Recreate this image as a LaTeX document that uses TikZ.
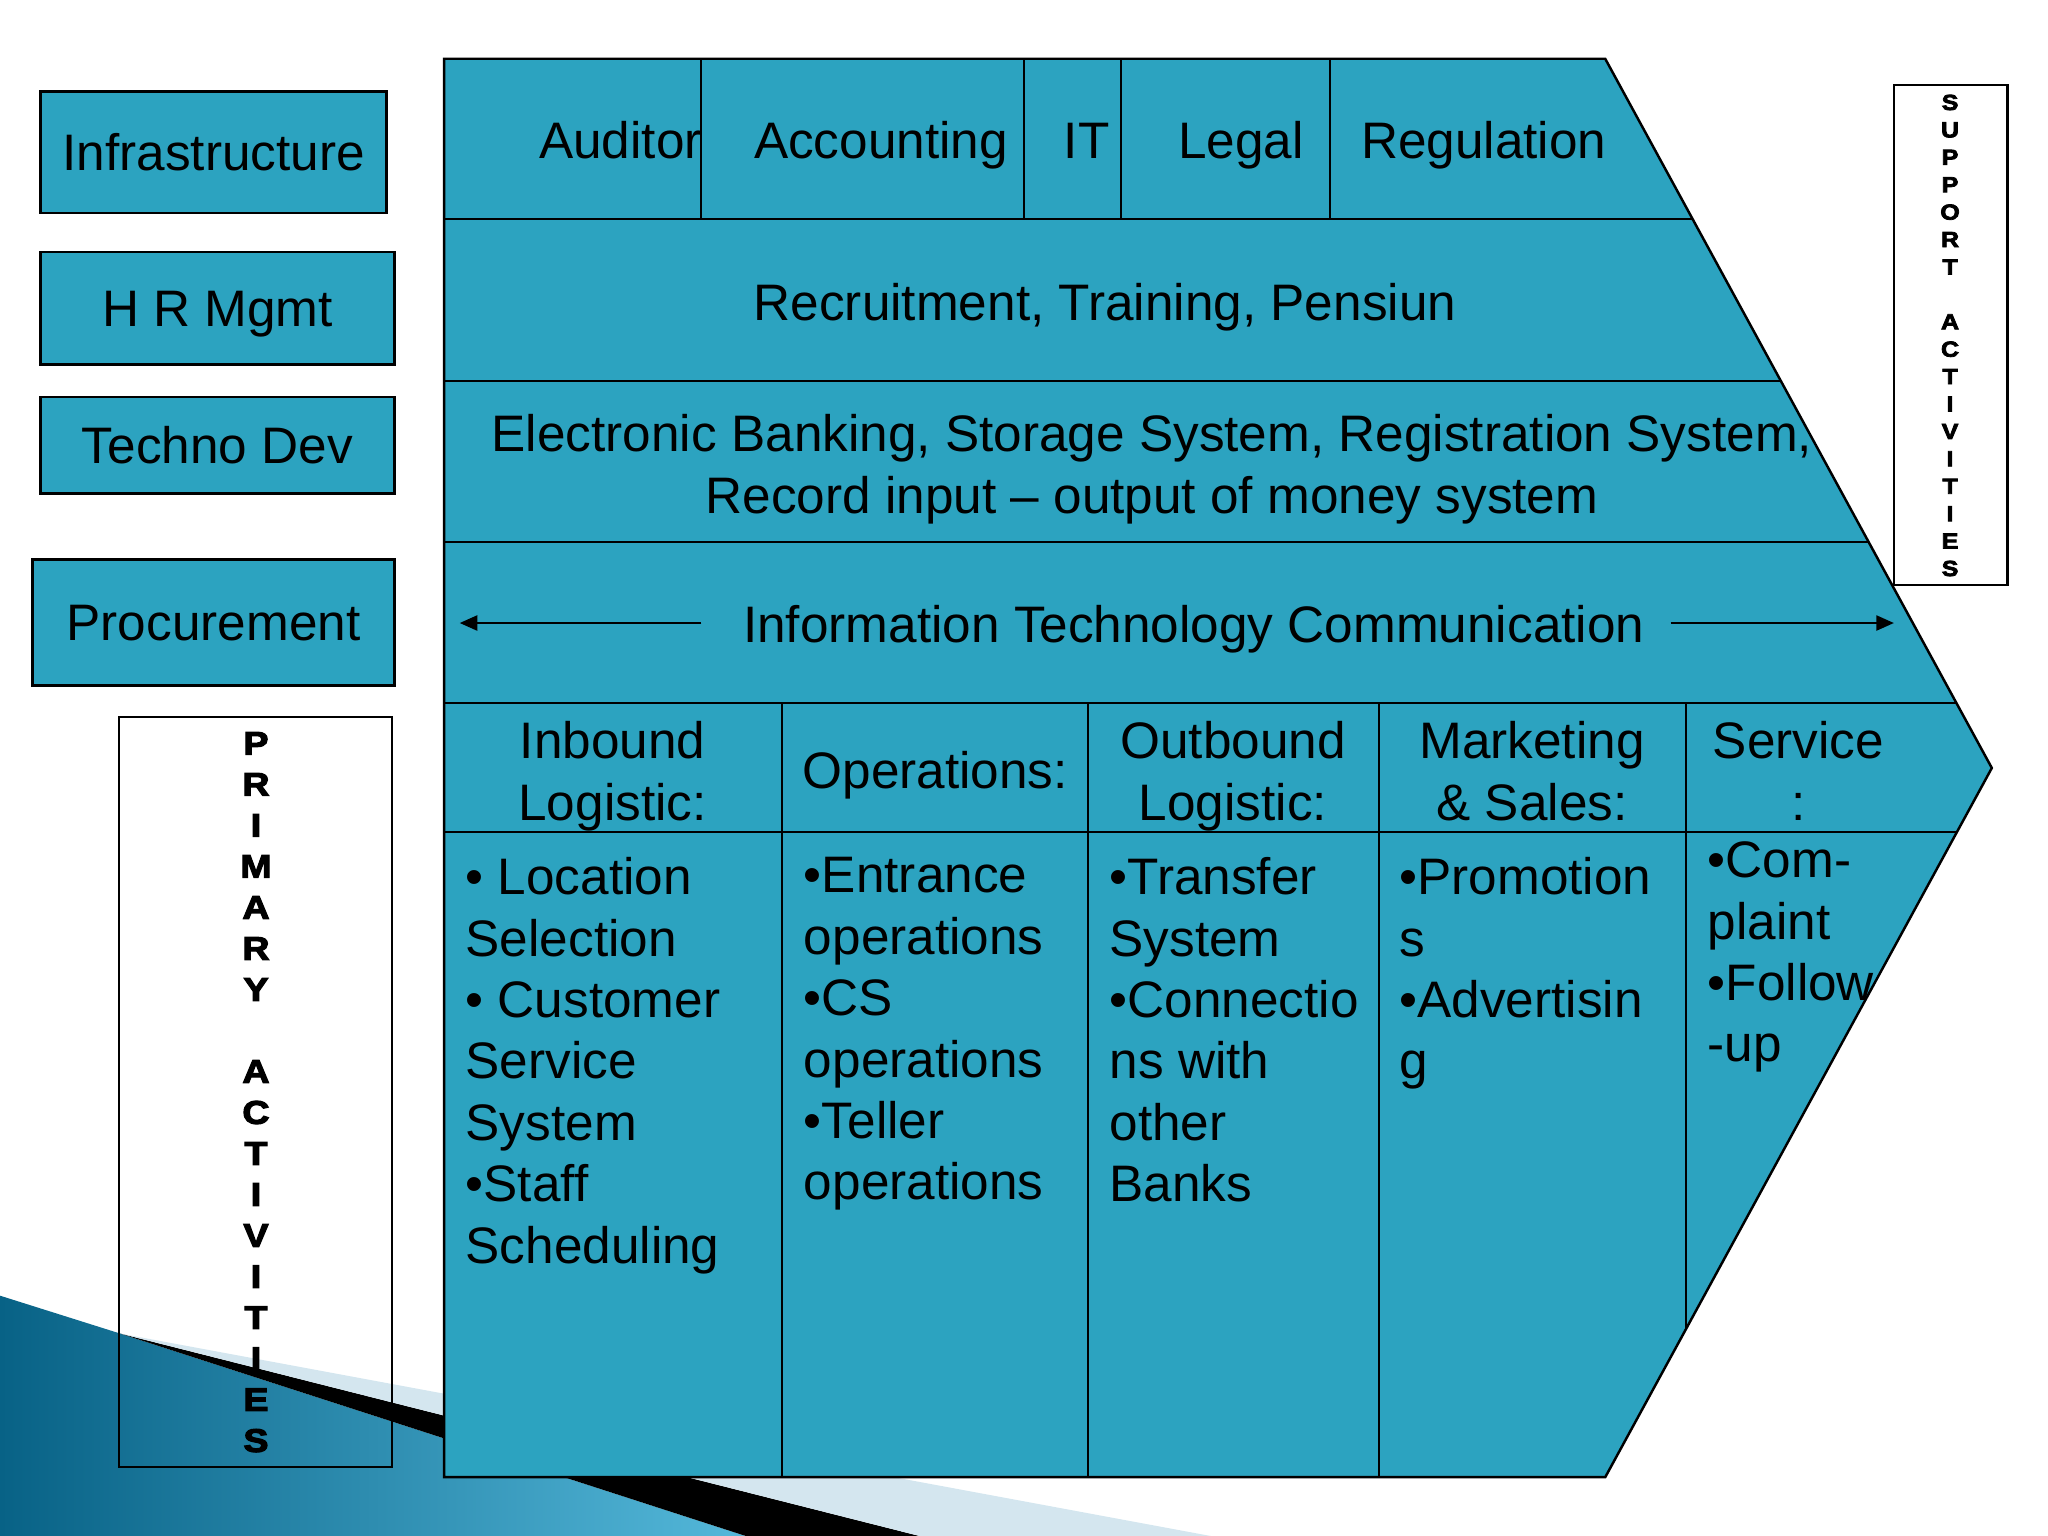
\documentclass[tikz,border=0pt]{standalone}
\usepackage{fontspec}
\setmainfont{Liberation Sans}
\newfontfamily\heavyfont{Liberation Sans Bold}[FakeBold=3.5,FakeStretch=1.15]
\usetikzlibrary{arrows.meta}
\definecolor{tealfill}{RGB}{44,163,192}
\definecolor{deepblue}{RGB}{8,98,134}
\definecolor{lightblue}{RGB}{84,184,218}
\definecolor{paleblue}{RGB}{212,230,239}
\begin{document}
\begin{tikzpicture}[x=0.013061cm,y=-0.013061cm,
  txt/.style={font=\fontsize{14.6}{17.47}\selectfont, inner sep=0pt},
  lbl/.style={txt, text height=10.45pt, text depth=0pt, anchor=center},
  multi/.style={txt, align=center, anchor=north},
  listtxt/.style={txt, align=left, anchor=north west},
  leftbox/.style={draw=black, line width=0.8pt, fill=tealfill, inner sep=0pt,
     font=\fontsize{14.6}{17.47}\selectfont, text height=10.45pt, text depth=0pt},
  framebox/.style={draw=black, line width=0.7pt},
  vert/.style={align=center, anchor=north, inner sep=0pt},
  grid/.style={draw=black, line width=0.6pt},
  arr/.style={draw=black, line width=0.6pt, -{Triangle[length=5pt,width=4.3pt]}}
]
\useasboundingbox (0,0) rectangle (1568,1176);

% background decoration
\shade[left color=deepblue, right color=lightblue] (0,992) -- (92,1021) -- (571,1176) -- (0,1176) -- cycle;
\fill[black] (92,1021) -- (571,1176) -- (704,1176) -- cycle;
\fill[paleblue] (92,1021) -- (704,1176) -- (927,1176) -- cycle;

% left boxes
\node[leftbox, minimum width=98.5pt, minimum height=34.6pt] (infra) at (163.5,116.5) {Infrastructure};
\node[leftbox, minimum width=100.7pt, minimum height=32pt] (hrm) at (166.5,236) {H R Mgmt};
\node[leftbox, minimum width=100.7pt, minimum height=27.5pt] (tech) at (166.5,341) {Techno Dev};
\node[leftbox, minimum width=102.9pt, minimum height=36pt] (proc) at (163.5,476.5) {Procurement};

% primary activities frame
\draw[framebox] (91,549) rectangle (300,1123);
\node[vert, font=\heavyfont\fontsize{9.3}{11.67}\selectfont] (prim) at (196,560)
  {P\\R\\I\\M\\A\\R\\Y\\~\\A\\C\\T\\I\\V\\I\\T\\I\\E\\S};

% support activities frame
\draw[framebox, fill=white] (1450,65) rectangle (1537,448);
\node[vert, font=\heavyfont\fontsize{6.2}{7.8}\selectfont] (supp) at (1493,72)
  {S\\U\\P\\P\\O\\R\\T\\~\\A\\C\\T\\I\\V\\I\\T\\I\\E\\S};

% main chevron
\path[fill=tealfill] (340,45) -- (1229,45) -- (1525,588) -- (1229,1131) -- (340,1131) -- cycle;
\begin{scope}
\clip (340,45) -- (1229,45) -- (1525,588) -- (1229,1131) -- (340,1131) -- cycle;
\foreach \yy in {168,292,415,538,637} \draw[grid] (340,\yy) -- (1600,\yy);
\foreach \xx in {537,784,858,1018} \draw[grid] (\xx,45) -- (\xx,168);
\foreach \xx in {599,833,1056,1291} \draw[grid] (\xx,538) -- (\xx,1131);
\end{scope}
\draw[black, line width=0.7pt] (340,45) -- (1229,45) -- (1525,588) -- (1229,1131) -- (340,1131) -- cycle;

% top row
\node[lbl] (aud) at (475,107) {Auditor};
\node[lbl] (acc) at (674.5,107) {Accounting};
\node[lbl] (itl) at (832,107) {IT};
\node[lbl] (leg) at (950,107) {Legal};
\node[lbl] (reg) at (1136,107) {Regulation};

\node[lbl] (hr) at (846,231) {Recruitment, Training, Pensiun};
\node[multi] (tdev) at (882,317) {Electronic Banking, Storage System, Registration System,\\Record input – output of money system};

% IT communication row
\node[lbl] (itc) at (914,478) {Information Technology Communication};
\coordinate (la1) at (537,477);
\coordinate (la2) at (352,477);
\coordinate (ra1) at (1279,477);
\coordinate (ra2) at (1450,477);
\draw[arr] (la1) -- (la2);
\draw[arr] (ra1) -- (ra2);

% headers
\node[multi] (h1) at (469,552) {Inbound\\Logistic:};
\node[lbl] (h2) at (716,590) {Operations:};
\node[multi] (h3) at (944,552) {Outbound\\Logistic:};
\node[multi] (h4) at (1173,552) {Marketing\\\& Sales:};
\node[multi] (h5) at (1377,552) {Service\\:};

% lists
\node[listtxt] (l1) at (356,656) {• Location\\Selection\\• Customer\\Service\\System\\•Staff\\Scheduling};
\node[listtxt] (l2) at (615,656) {•Entrance\\operations\\•CS\\operations\\•Teller\\operations};
\node[listtxt] (l3) at (849,656) {•Transfer\\System\\•Connectio\\ns with\\other\\Banks};
\node[listtxt] (l4) at (1071,656) {•Promotion\\s\\•Advertisin\\g};
\node[listtxt] (l5) at (1307,644) {•Com-\\plaint\\•Follow\\-up};
\end{tikzpicture}
\end{document}
